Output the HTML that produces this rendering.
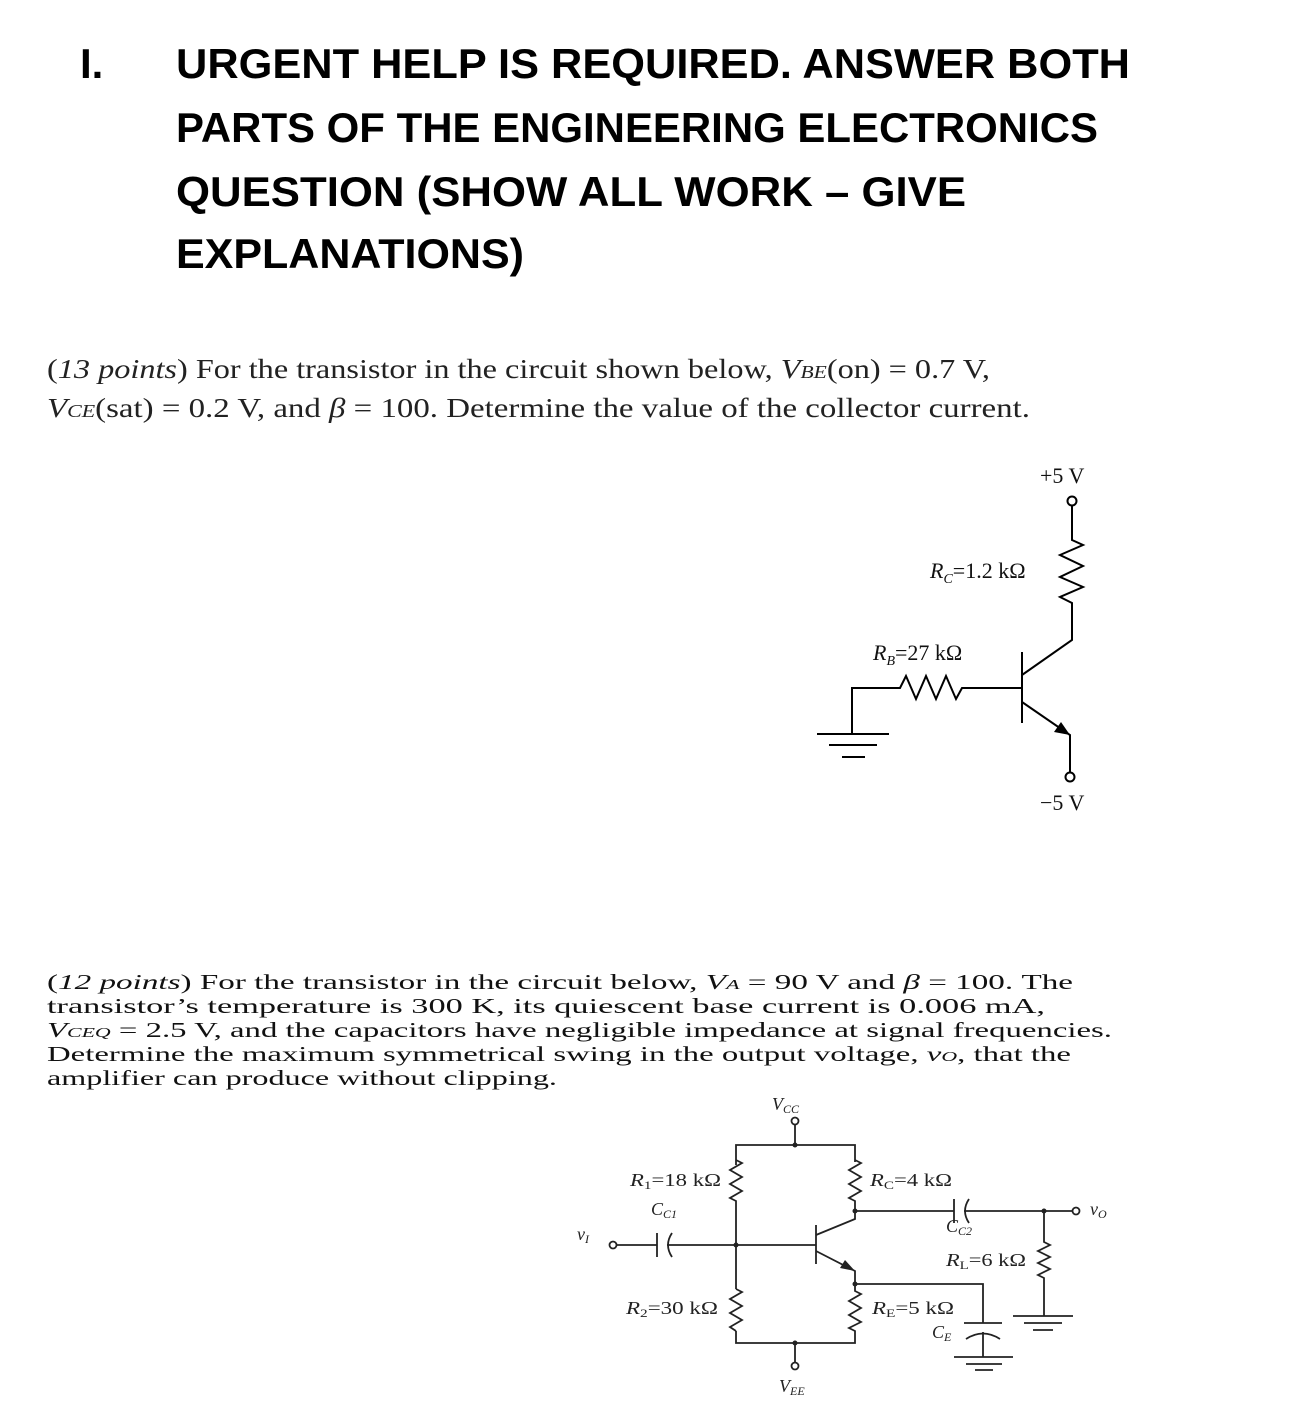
<!DOCTYPE html>
<html><head><meta charset="utf-8"><style>html,body{margin:0;padding:0;background:#fff}svg{display:block}</style></head><body>
<svg width="1298" height="1426" viewBox="0 0 1298 1426" xmlns="http://www.w3.org/2000/svg">
<g font-family="Liberation Sans, sans-serif" font-weight="bold" font-size="42" fill="#000">
<text x="80" y="78">I.</text>
<text x="176" y="78" textLength="954" lengthAdjust="spacingAndGlyphs">URGENT HELP IS REQUIRED.  ANSWER BOTH</text>
<text x="176" y="142" textLength="922" lengthAdjust="spacingAndGlyphs">PARTS OF THE ENGINEERING ELECTRONICS</text>
<text x="176" y="206" textLength="790" lengthAdjust="spacingAndGlyphs">QUESTION (SHOW ALL WORK – GIVE</text>
<text x="176" y="268" textLength="348" lengthAdjust="spacingAndGlyphs">EXPLANATIONS)</text>
</g>
<g font-family="Liberation Serif, serif" font-size="27" fill="#222">
<text x="47" y="378" textLength="943" lengthAdjust="spacingAndGlyphs">(<tspan font-style="italic">13 points</tspan>) For the transistor in the circuit shown below, <tspan font-style="italic">V<tspan font-size="18">BE</tspan></tspan>(on) = 0.7 V,</text>
<text x="47" y="417" textLength="983" lengthAdjust="spacingAndGlyphs"><tspan font-style="italic">V<tspan font-size="18">CE</tspan></tspan>(sat) = 0.2 V, and <tspan font-style="italic">β</tspan> = 100.  Determine the value of the collector current.</text>
</g>
<g font-family="Liberation Serif, serif" font-size="21" fill="#111">
<text x="47" y="989" textLength="1026" lengthAdjust="spacingAndGlyphs">(<tspan font-style="italic">12 points</tspan>) For the transistor in the circuit below, <tspan font-style="italic">V<tspan font-size="14">A</tspan></tspan> = 90 V and <tspan font-style="italic">β</tspan> = 100.  The</text>
<text x="47" y="1013" textLength="998" lengthAdjust="spacingAndGlyphs">transistor’s temperature is 300 K, its quiescent base current is 0.006 mA,</text>
<text x="47" y="1037" textLength="1065" lengthAdjust="spacingAndGlyphs"><tspan font-style="italic">V<tspan font-size="14">CEQ</tspan></tspan> = 2.5 V, and the capacitors have negligible impedance at signal frequencies.</text>
<text x="47" y="1061" textLength="1024" lengthAdjust="spacingAndGlyphs">Determine the maximum symmetrical swing in the output voltage, <tspan font-style="italic">v<tspan font-size="14">O</tspan></tspan>, that the</text>
<text x="47" y="1085" textLength="510" lengthAdjust="spacingAndGlyphs">amplifier can produce without clipping.</text>
</g>

<!-- Circuit 1 -->
<g stroke="#000" stroke-width="2" fill="none">
<circle cx="1072" cy="501" r="4.5"/>
<polyline points="1072,506 1072,540 1083,545 1060,555 1083,566 1060,577 1083,587 1060,597 1072,603 1072,640 1022,675"/>
<line x1="1022" y1="652" x2="1022" y2="723"/>
<polyline points="852,734 852,688 900,688 906,676 916,699 926,676 936,699 946,676 956,699 962,688 1022,688"/>
<line x1="817" y1="734" x2="889" y2="734"/>
<line x1="829" y1="745" x2="877" y2="745"/>
<line x1="842" y1="757" x2="865" y2="757"/>
<polyline points="1022,702 1070,735 1070,772"/>
<circle cx="1070" cy="777" r="4.5"/>
</g>
<polygon points="1070,735 1054,732 1061,722" fill="#000"/>
<g font-family="Liberation Serif, serif" font-size="22" fill="#111">
<text x="1040" y="483">+5 V</text>
<text x="1040" y="810">−5 V</text>
<text x="930" y="578"><tspan font-style="italic">R</tspan><tspan font-size="14" font-style="italic" dy="5">C</tspan><tspan dy="-5">=1.2 kΩ</tspan></text>
<text x="873" y="660"><tspan font-style="italic">R</tspan><tspan font-size="14" font-style="italic" dy="5">B</tspan><tspan dy="-5">=27 kΩ</tspan></text>
</g>

<!-- Circuit 2 -->
<g stroke="#222" stroke-width="1.8" fill="none">
<circle cx="795" cy="1121" r="3.5"/>
<line x1="795" y1="1125" x2="795" y2="1145"/>
<polyline points="736,1165 736,1145 855,1145 855,1162"/>
<polyline points="736,1160 742,1163 730,1170 742,1177 730,1184 742,1191 730,1198 736,1201 736,1289"/>
<polyline points="855,1160 861,1163 849,1170 861,1177 849,1184 861,1191 849,1198 855,1201 855,1219 816,1235"/>
<line x1="816" y1="1225" x2="816" y2="1264"/>
<line x1="617" y1="1245" x2="657" y2="1245"/>
<circle cx="613" cy="1245" r="3.5"/>
<line x1="657" y1="1233" x2="657" y2="1257"/>
<path d="M672,1233 Q664,1245 672,1257"/>
<line x1="667" y1="1245" x2="816" y2="1245"/>
<polyline points="816,1251 855,1271 855,1291 861,1294 849,1301 861,1308 849,1315 861,1322 849,1328 855,1331 855,1343 736,1343 736,1331"/>
<polyline points="736,1289 742,1292 730,1299 742,1306 730,1313 742,1320 730,1327 736,1331"/>
<line x1="795" y1="1343" x2="795" y2="1362"/>
<circle cx="795" cy="1366" r="3.5"/>
<polyline points="855,1284 983,1284 983,1323"/>
<line x1="964" y1="1323" x2="1002" y2="1323"/>
<path d="M966,1339 Q983,1328 1000,1339"/>
<line x1="983" y1="1332" x2="983" y2="1357"/>
<line x1="954" y1="1357" x2="1013" y2="1357"/>
<line x1="966" y1="1364" x2="1002" y2="1364"/>
<line x1="975" y1="1370" x2="993" y2="1370"/>
<line x1="855" y1="1211" x2="954" y2="1211"/>
<line x1="954" y1="1199" x2="954" y2="1223"/>
<path d="M969,1199 Q961,1211 969,1223"/>
<line x1="964" y1="1211" x2="1072" y2="1211"/>
<circle cx="1076" cy="1211" r="3.5"/>
<polyline points="1044,1211 1044,1242 1050,1245 1038,1251 1050,1257 1038,1263 1050,1269 1038,1275 1044,1278 1044,1316"/>
<line x1="1013" y1="1316" x2="1073" y2="1316"/>
<line x1="1024" y1="1323" x2="1062" y2="1323"/>
<line x1="1033" y1="1330" x2="1053" y2="1330"/>
</g>
<polygon points="855,1271 840,1268 845,1260" fill="#222"/>
<g fill="#222">
<circle cx="795" cy="1145" r="2.5"/><circle cx="736" cy="1245" r="2.5"/><circle cx="855" cy="1211" r="2.5"/>
<circle cx="855" cy="1284" r="2.5"/><circle cx="795" cy="1343" r="2.5"/><circle cx="1044" cy="1211" r="2.5"/>
</g>
<g font-family="Liberation Serif, serif" font-size="18" fill="#222">
<text x="772" y="1110" font-style="italic">V<tspan font-size="12" dy="3">CC</tspan></text>
<text x="779" y="1392" font-style="italic">V<tspan font-size="12" dy="3">EE</tspan></text>
<text x="577" y="1240" font-style="italic">v<tspan font-size="12" dy="3">I</tspan></text>
<text x="1090" y="1215" font-style="italic">v<tspan font-size="12" dy="3">O</tspan></text>
<text x="630" y="1186" textLength="91" lengthAdjust="spacingAndGlyphs"><tspan font-style="italic">R</tspan><tspan font-size="12" dy="3">1</tspan><tspan dy="-3">=18 kΩ</tspan></text>
<text x="870" y="1186" textLength="82" lengthAdjust="spacingAndGlyphs"><tspan font-style="italic">R</tspan><tspan font-size="12" dy="3">C</tspan><tspan dy="-3">=4 kΩ</tspan></text>
<text x="651" y="1215" font-style="italic">C<tspan font-size="12" dy="3">C1</tspan></text>
<text x="946" y="1232" font-style="italic">C<tspan font-size="12" dy="3">C2</tspan></text>
<text x="946" y="1266" textLength="80" lengthAdjust="spacingAndGlyphs"><tspan font-style="italic">R</tspan><tspan font-size="12" dy="3">L</tspan><tspan dy="-3">=6 kΩ</tspan></text>
<text x="626" y="1314" textLength="92" lengthAdjust="spacingAndGlyphs"><tspan font-style="italic">R</tspan><tspan font-size="12" dy="3">2</tspan><tspan dy="-3">=30 kΩ</tspan></text>
<text x="872" y="1314" textLength="82" lengthAdjust="spacingAndGlyphs"><tspan font-style="italic">R</tspan><tspan font-size="12" dy="3">E</tspan><tspan dy="-3">=5 kΩ</tspan></text>
<text x="932" y="1338" font-style="italic">C<tspan font-size="12" dy="3">E</tspan></text>
</g>
</svg>
</body></html>
